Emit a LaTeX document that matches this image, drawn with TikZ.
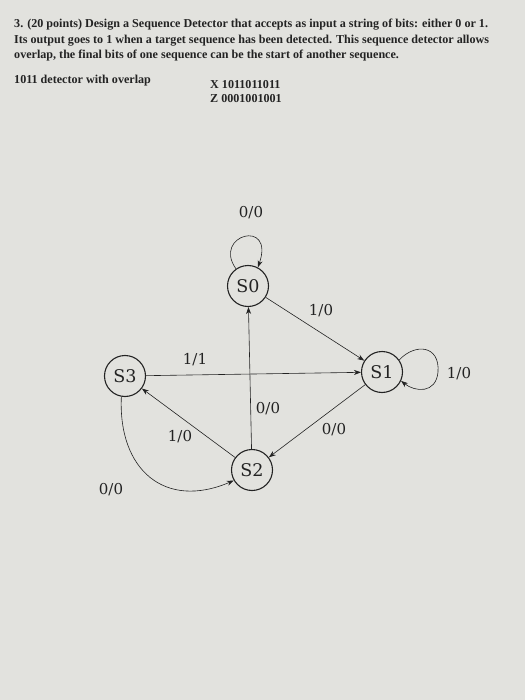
\documentclass[tikz,border=0pt]{standalone}
\usepackage{fontspec}
\setmainfont{Liberation Serif}
\newfontfamily\labfont{DejaVu Serif}
\usetikzlibrary{arrows.meta}
\definecolor{paper}{RGB}{226,226,222}
\definecolor{ink}{RGB}{35,35,35}
\begin{document}
\begin{tikzpicture}[x=1pt,y=-1pt,
  state/.style={circle,draw=ink,line width=1.1pt,minimum size=41pt,inner sep=0pt,text=ink,font=\labfont\fontsize{17.5}{17.5}\selectfont},
  edge/.style={draw=ink,line width=0.6pt,-{Stealth[length=7pt,width=5pt]}},
  lbl/.style={text=ink,font=\labfont\fontsize{15}{15}\selectfont,inner sep=1pt},
  hdr/.style={text=ink,font=\bfseries\fontsize{12.1}{13}\selectfont,anchor=base west,inner sep=0pt}]
\fill[paper] (0,0) rectangle (525,700);
\useasboundingbox (0,0) rectangle (525,700);
% header
\node[hdr] (h1) at (14,28) {3. (20 points) Design a Sequence Detector that accepts as input a string of bits: either 0 or 1.};
\node[hdr] (h2) at (14,44) {Its output goes to 1 when a target sequence has been detected. This sequence detector allows};
\node[hdr] (h3) at (14,59) {overlap, the final bits of one sequence can be the start of another sequence.};
\node[hdr] (h4) at (14,84) {1011 detector with overlap};
\node[hdr] (hx) at (210,89) {X 1011011011};
\node[hdr] (hz) at (210,103) {Z 0001001001};
% states
\node[state] (S0) at (248,286) {S0};
\node[state] (S1) at (382,372) {S1};
\node[state] (S3) at (125,376) {S3};
\node[state] (S2) at (252,470) {S2};
% edges
\draw[edge] (S0.125) .. controls (212,235) and (275,218) .. (S0.62);
\draw[edge] (S1.35) .. controls (415,343) and (440,345) .. (438,372) .. controls (436,394) and (415,392) .. (S1.-25);
\draw[edge] (S0) -- (S1);
\draw[edge] (S3) -- (S1);
\draw[edge] (S2) -- (S0);
\draw[edge] (S1) -- (S2);
\draw[edge] (S2) -- (S3);
\draw[edge] (S3.-100) .. controls (118,470) and (165,510) .. (S2.-150);
% labels
\node[lbl] (l00a) at (251,213) {0/0};
\node[lbl] (l10a) at (321,311) {1/0};
\node[lbl] (l11) at (195,360) {1/1};
\node[lbl] (l00b) at (268,409) {0/0};
\node[lbl] (l00c) at (334,430) {0/0};
\node[lbl] (l10b) at (180,437) {1/0};
\node[lbl] (l00d) at (111,490) {0/0};
\node[lbl] (l10c) at (459,374) {1/0};
\end{tikzpicture}
\end{document}
